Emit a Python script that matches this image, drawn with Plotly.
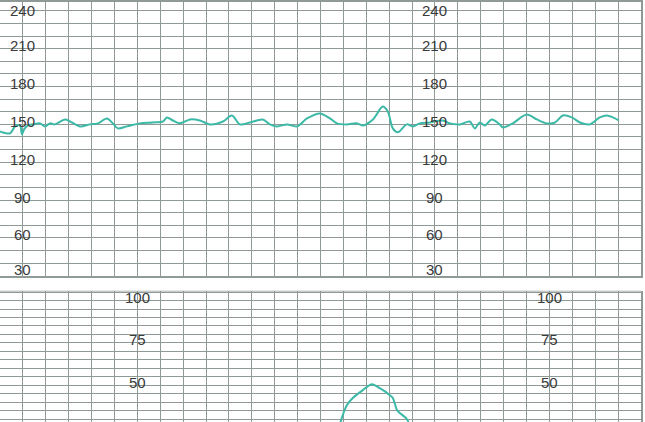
import plotly.graph_objects as go

# ---------------- data ----------------
# fetal heart rate trace (x in grid columns / minutes, y in bpm)
fhr_t = [0, 0.44, 0.66, 0.87, 0.96, 1.05, 1.22, 1.44, 1.75, 1.97, 2.18, 2.40, 2.84, 3.06,
         3.49, 3.93, 4.28, 4.67, 4.93, 5.15, 5.55, 6.11, 6.68, 7.12, 7.29, 7.55, 7.86, 8.30,
         8.73, 9.17, 9.74, 10.13, 10.48, 10.92, 11.48, 11.79, 12.10, 12.53, 12.97, 13.41,
         13.97, 14.41, 14.72, 15.15, 15.59, 15.85, 16.29, 16.72, 16.94, 17.16, 17.38, 17.77,
         18.03, 18.34, 18.78, 19.34, 19.65, 20.09, 20.52, 20.74, 20.96, 21.18, 21.48, 21.83,
         21.97, 22.40, 23.01, 23.45, 23.89, 24.24, 24.59, 24.98, 25.33, 25.76, 26.20, 26.51,
         26.77, 27.03]
fhr_bpm = [144.4, 142.9, 148.4, 149.2, 142.1, 146.0, 149.2, 150.0, 150.8, 148.4, 150.8, 150.0,
           153.9, 152.3, 148.4, 150.0, 150.8, 154.7, 150.8, 146.8, 148.4, 150.8, 151.5, 152.3,
           155.5, 153.1, 150.8, 153.9, 153.1, 150.0, 152.3, 157.1, 150.0, 151.5, 153.9, 150.0,
           148.4, 150.0, 148.4, 154.7, 158.7, 154.7, 150.8, 150.0, 150.8, 149.2, 153.9, 164.2,
           160.2, 146.8, 143.7, 150.0, 148.4, 150.8, 151.5, 153.1, 150.8, 150.0, 152.3, 146.8,
           151.5, 149.2, 153.9, 150.0, 147.6, 150.8, 157.9, 153.9, 150.8, 151.5, 157.1, 155.5,
           151.5, 150.0, 155.5, 157.1, 155.5, 153.1]

# uterine contraction trace
uc_t = [14.80, 14.93, 15.15, 15.41, 15.85, 16.24, 16.59, 17.03, 17.16, 17.34, 17.47, 17.77, 17.95]
uc_val = [24.0, 30.6, 38.2, 42.4, 47.1, 50.6, 48.2, 44.1, 42.4, 35.3, 33.5, 30.0, 24.0]

fhr_ticks = [240, 210, 180, 150, 120, 90, 60, 30]
uc_ticks = [100, 75, 50, 25]
fhr_label_cols = [1, 19]
uc_label_cols = [6, 24]

# ---------------- style ----------------
W, H = 645, 422
GRID = "#8f9a96"
TRACE = "#3cb9a6"
TXT = "#3a3a3a"
FONT = "Liberation Sans, Arial, sans-serif"

top_bottom_px = 275
bot_top_px = 290
fhr_range = [30, 30 + top_bottom_px / 1.267]
uc_range = [100 - (H - 300) / 1.7, 100 + (300 - bot_top_px) / 1.7]
x_range = [0, 28]
x_dom = [0, 641 / W]

fig = go.Figure()

fig.add_trace(go.Scatter(x=fhr_t, y=fhr_bpm, mode="lines", xaxis="x2", yaxis="y",
                         line=dict(color=TRACE, width=2, shape="spline", smoothing=0.9),
                         hoverinfo="skip", showlegend=False))
fig.add_trace(go.Scatter(x=uc_t, y=uc_val, mode="lines", xaxis="x", yaxis="y2",
                         line=dict(color=TRACE, width=2, shape="spline", smoothing=0.8),
                         hoverinfo="skip", showlegend=False))

fhr_shift = {240: 0, 30: 6}
ann = []
for c in fhr_label_cols:
    for v in fhr_ticks:
        ann.append(dict(x=c, y=v, xref="x2", yref="y", text=str(v), showarrow=False,
                        font=dict(family=FONT, size=15, color=TXT),
                        yshift=fhr_shift.get(v, 3), xanchor="center", yanchor="middle"))
for c in uc_label_cols:
    for v in uc_ticks:
        ann.append(dict(x=c, y=v, xref="x", yref="y2", text=str(v), showarrow=False,
                        font=dict(family=FONT, size=15, color=TXT),
                        yshift=3, xanchor="center", yanchor="middle"))

grid_common = dict(showgrid=True, gridcolor=GRID, gridwidth=1.2, zeroline=False,
                   showticklabels=False, ticks="", fixedrange=True)

fig.update_layout(
    width=W, height=H,
    margin=dict(l=0, r=0, t=0, b=0),
    paper_bgcolor="white", plot_bgcolor="white",
    showlegend=False,
    xaxis=dict(domain=x_dom, range=x_range, anchor="y2", dtick=1, tick0=0,
               showline=False, **grid_common),
    xaxis2=dict(domain=x_dom, range=x_range, anchor="y", dtick=1, tick0=0,
                showline=True, mirror=True, linecolor=GRID, linewidth=1.5, **grid_common),
    yaxis=dict(domain=[1 - top_bottom_px / H, 1], range=fhr_range, anchor="x2", dtick=10, tick0=30,
               showline=True, mirror=True, linecolor=GRID, linewidth=1.5, **grid_common),
    yaxis2=dict(domain=[0, 1 - bot_top_px / H], range=uc_range, anchor="x", dtick=5, tick0=0,
                showline=True, mirror=True, linecolor=GRID, linewidth=1.5, **grid_common),
    annotations=ann,
    shapes=[dict(type="line", xref="x", yref="y2", x0=x_range[0], x1=x_range[1],
                 y0=uc_range[1], y1=uc_range[1], line=dict(color=GRID, width=1.5))],
)

fig.write_html("out.html", config={"displayModeBar": False},
               post_script="document.body.style.margin='0';document.body.style.overflow='hidden';")
